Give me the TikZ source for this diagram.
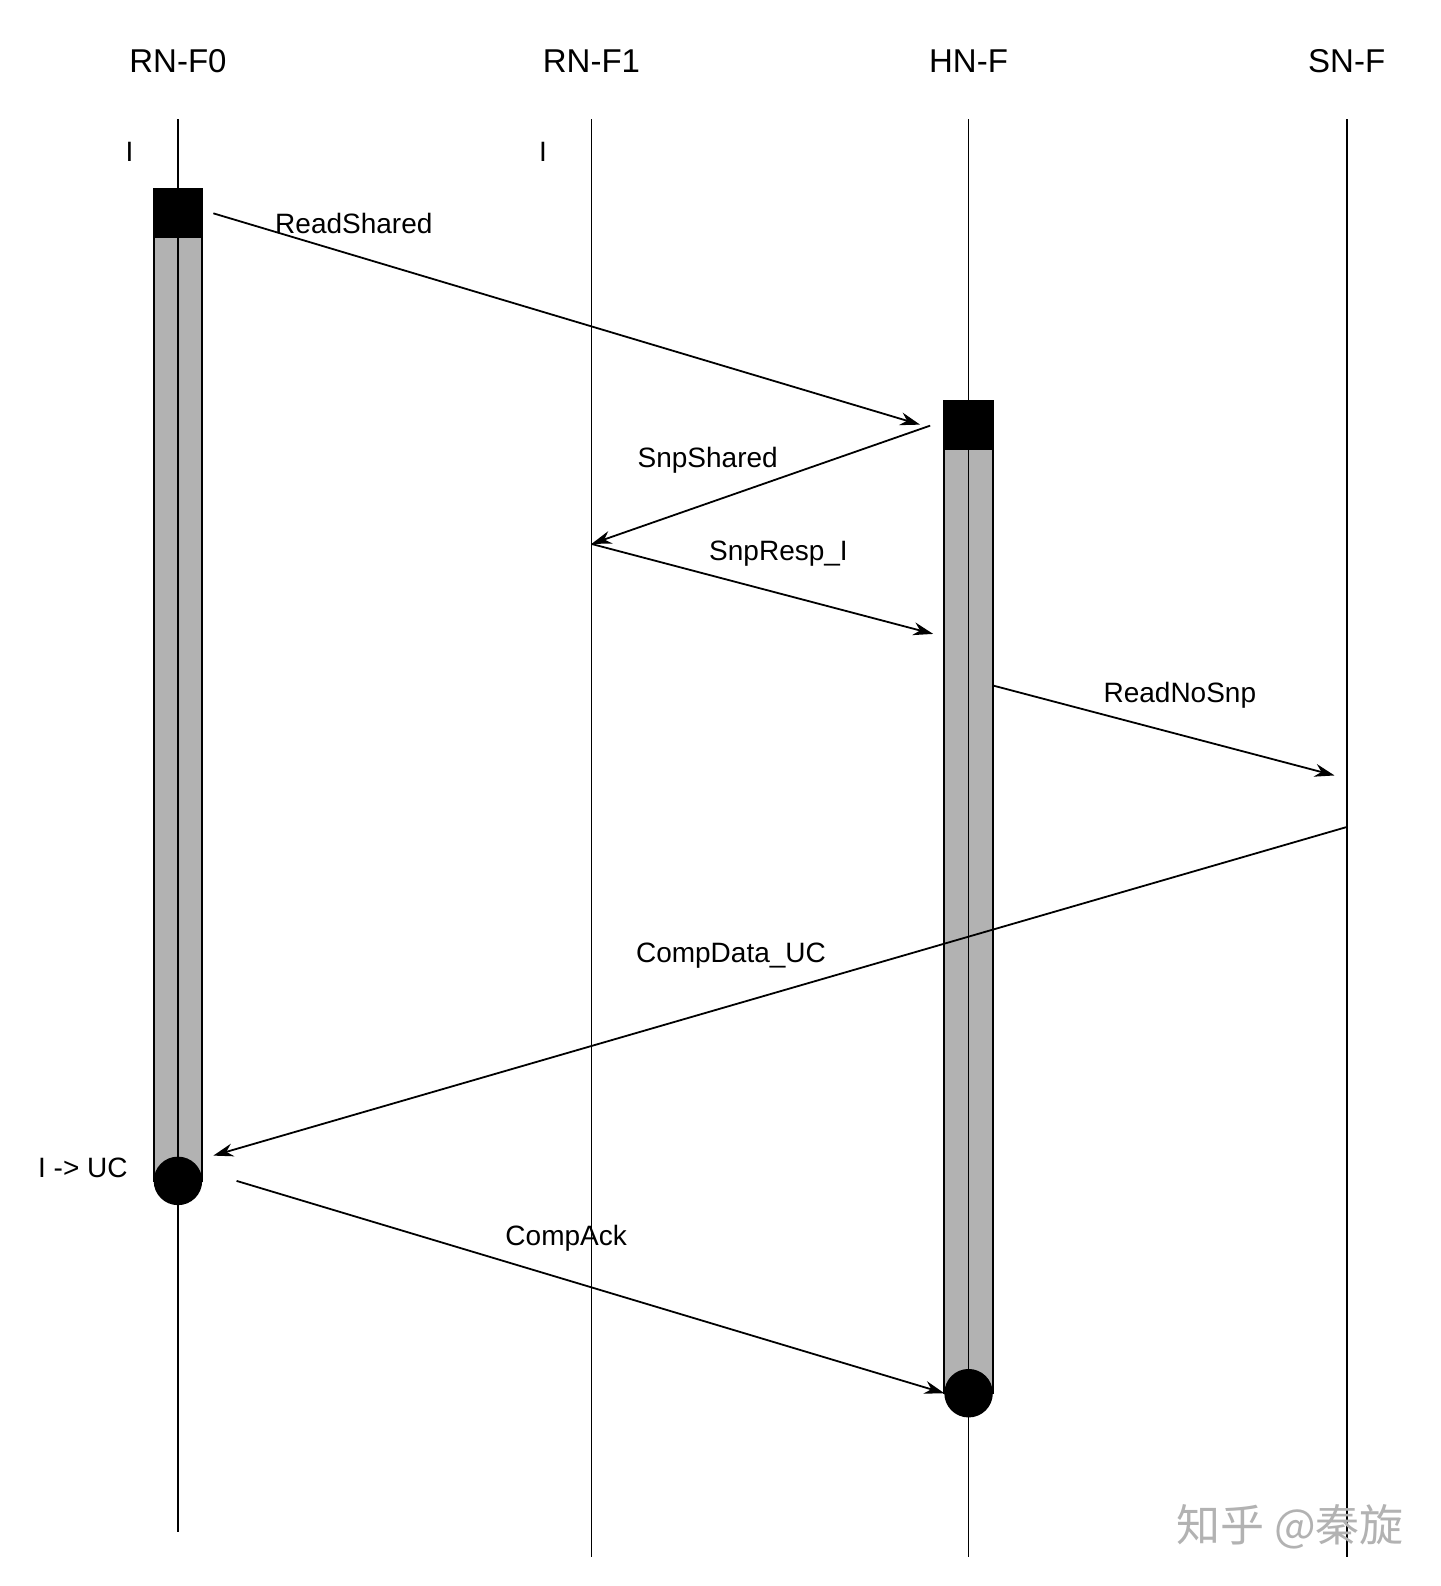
\documentclass[tikz,border=0pt]{standalone}
\usepackage{fontspec}
\setmainfont{Liberation Sans}
\newfontfamily\cjk{Noto Sans CJK SC}
\usetikzlibrary{arrows.meta}
\begin{document}
\begin{tikzpicture}[x=1.011pt,y=-1.011pt,line width=1.8pt,
  head/.style={font=\fontsize{33}{36}\selectfont},
  msg/.style={font=\fontsize{28}{31}\selectfont},
  arr/.style={-{Stealth[length=20pt,width=13pt]}}]
  \useasboundingbox (0,0) rectangle (1424.3,1568.7);
  % lifelines
  \foreach \n/\x/\e/\t in {f0/176/1515/RN-F0,f1/585/1540/RN-F1,hn/958/1540/HN-F,sn/1332/1540/SN-F}{
    \node[head] (\n) at (\x,60) {\t};
    \draw (\x,118) -- (\x,\e);
  }
  \node[msg] (s0) at (128,150) {I};
  \node[msg] (s1) at (537,150) {I};
  % activation bars
  \foreach \x/\a/\b in {176/187/1168,958/397/1378}{
    \draw[fill=black!30] (\x-24,\a) rectangle (\x+24,\b);
    \draw (\x,\a) -- (\x,\b);
    \fill (\x-24,\a) rectangle (\x+24,\a+48);
    \fill (\x,\b) circle (24);
  }
  \node[msg] (st) at (82,1155) {I -> UC};
  % messages
  \coordinate (a1) at (211,211); \coordinate (a2) at (910,420);
  \coordinate (b1) at (920,421); \coordinate (b2) at (585,538);
  \coordinate (c2) at (923,627);
  \coordinate (d1) at (982,678); \coordinate (d2) at (1320,767);
  \coordinate (e1) at (1332,818); \coordinate (e2) at (211,1143);
  \coordinate (g1) at (234,1168); \coordinate (g2) at (934,1378);
  \draw[arr] (a1) -- (a2);
  \draw[arr] (b1) -- (b2);
  \draw[arr] (b2) -- (c2);
  \draw[arr] (d1) -- (d2);
  \draw[arr] (e1) -- (e2);
  \draw[arr] (g1) -- (g2);
  \node[msg] (m1) at (350,221) {ReadShared};
  \node[msg] (m2) at (700,455) {SnpShared};
  \node[msg] (m3) at (770,548) {SnpResp\_I};
  \node[msg] (m4) at (1167,688) {ReadNoSnp};
  \node[msg] (m5) at (723,945) {CompData\_UC};
  \node[msg] (m6) at (560,1225) {CompAck};
  \node[font=\cjk\fontsize{44}{48}\selectfont,text=black!30] (wm) at (1276,1510) {知乎 @秦旋};
\end{tikzpicture}
\end{document}
